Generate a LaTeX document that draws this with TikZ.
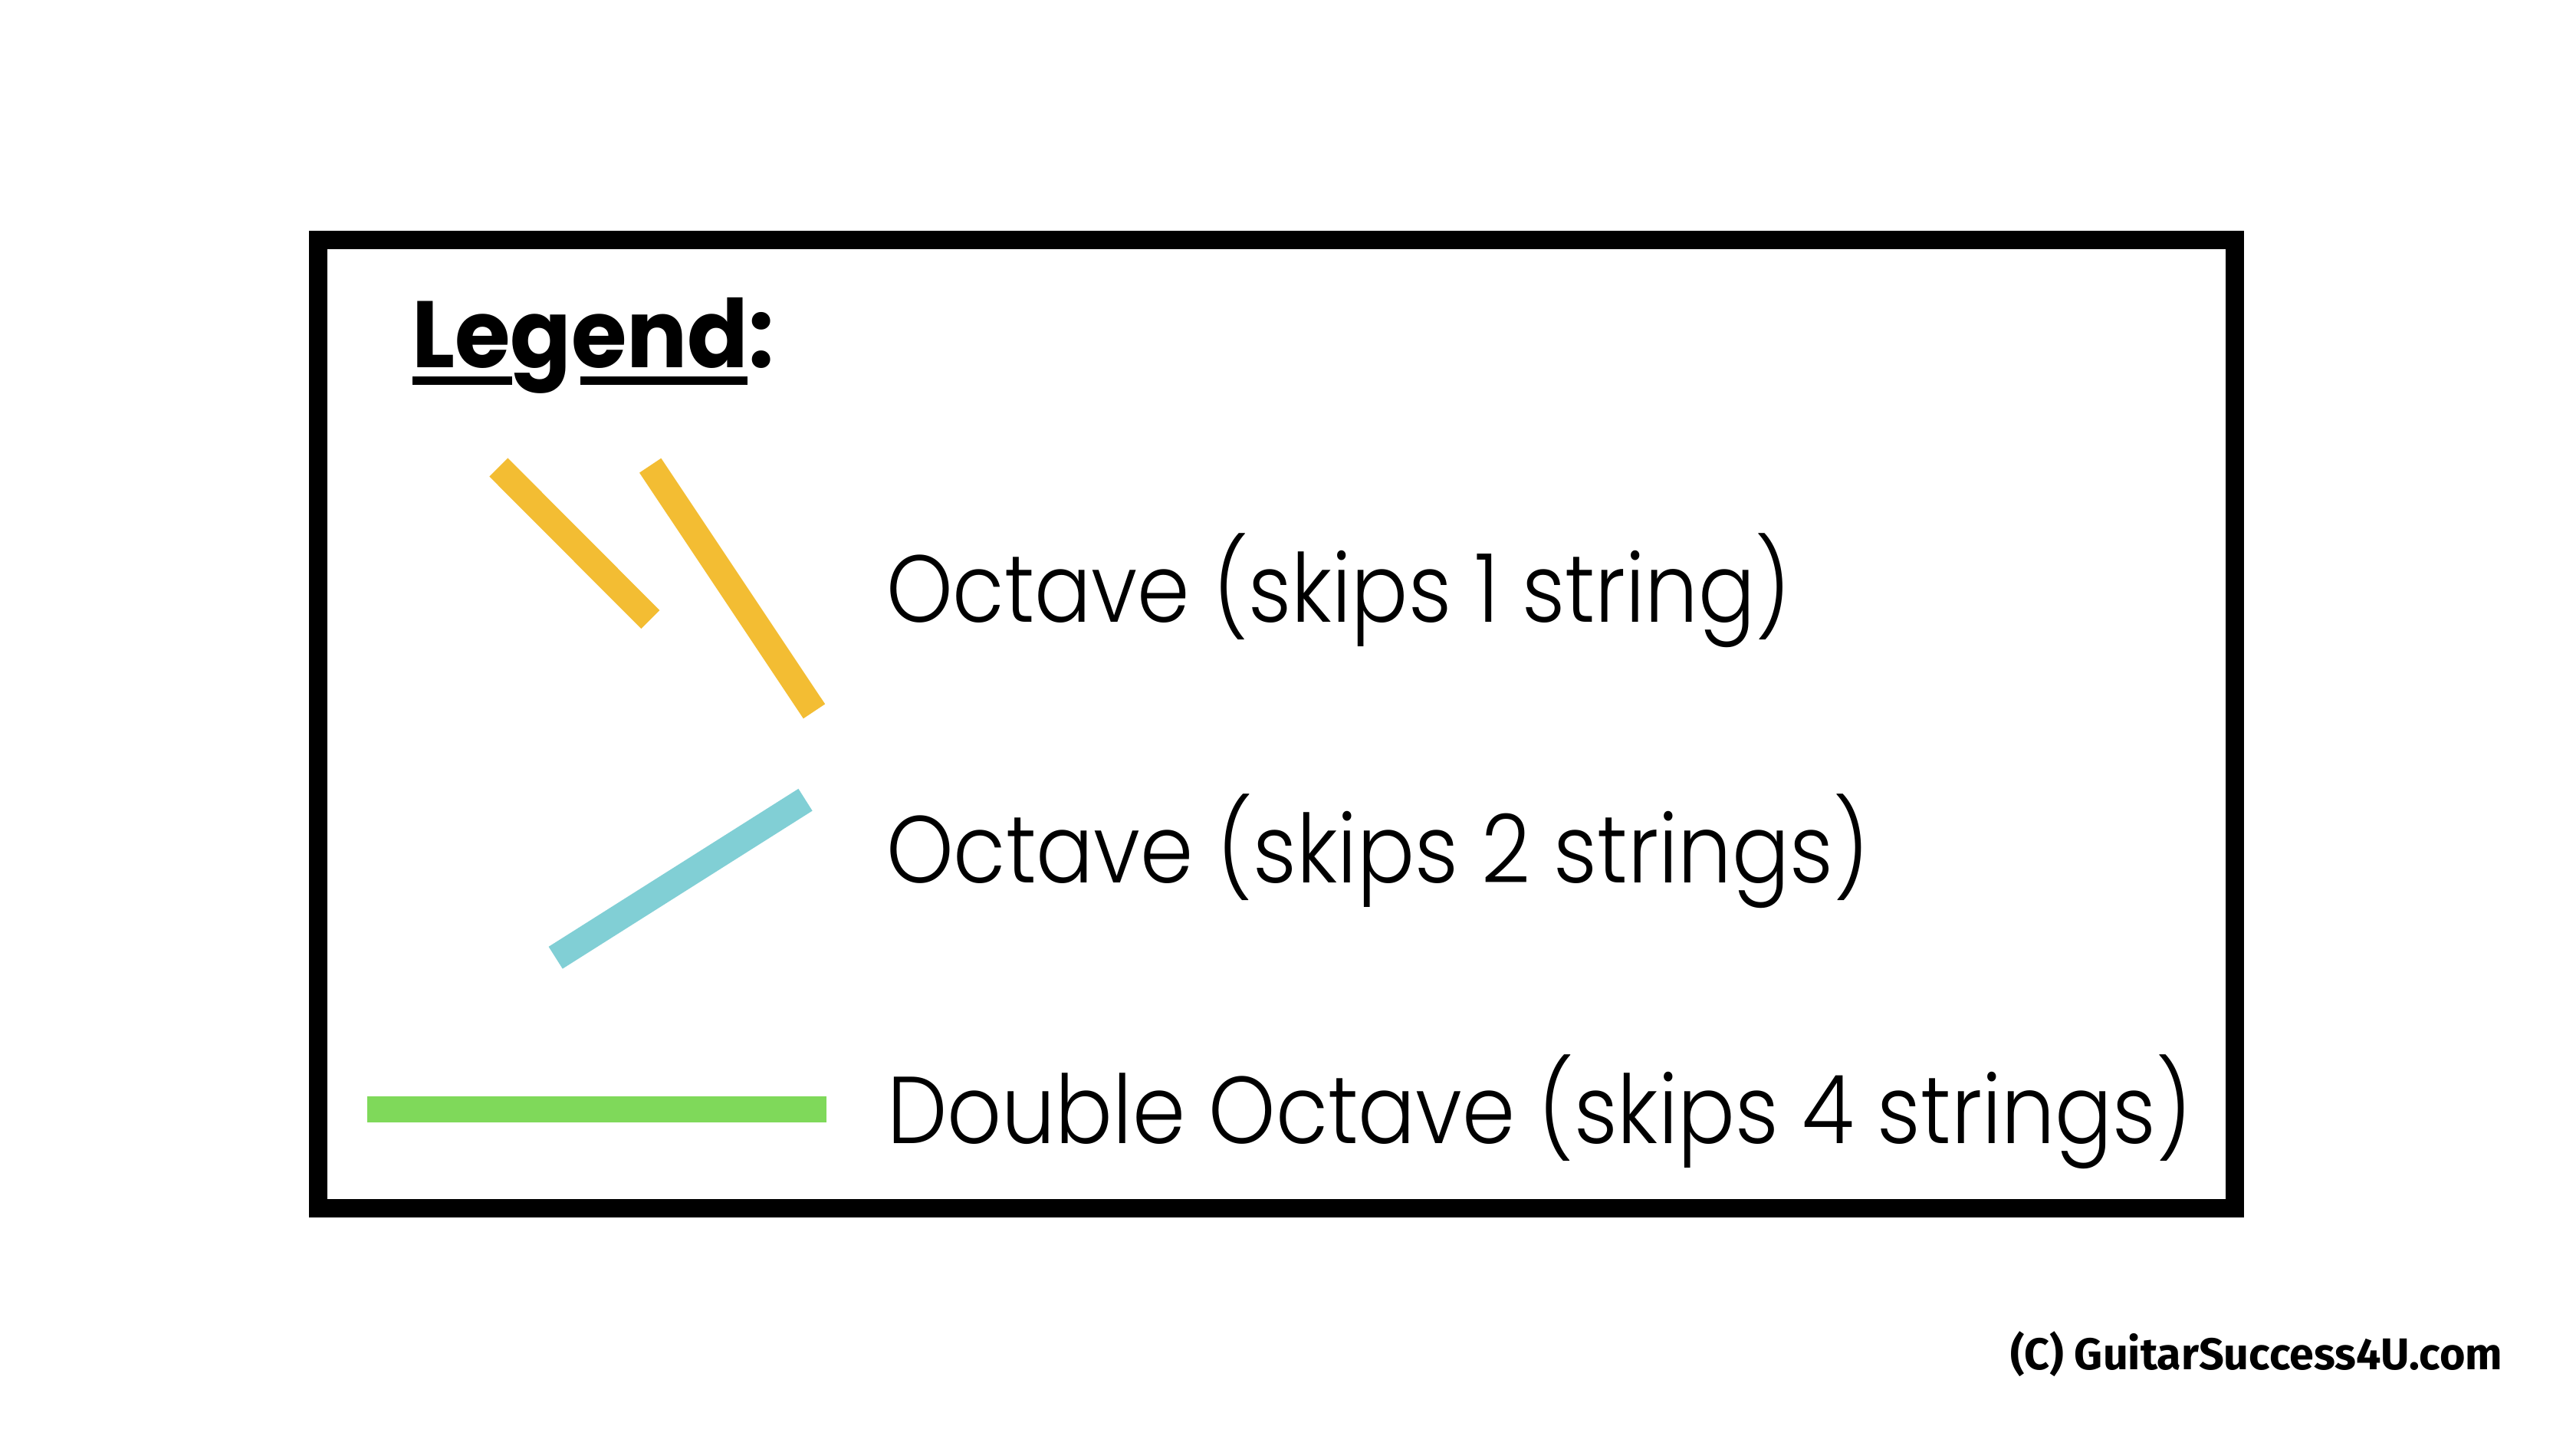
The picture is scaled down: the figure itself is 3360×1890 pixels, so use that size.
\documentclass[tikz,border=0pt]{standalone}
\usepackage{fontspec}
\usepackage{graphicx}
\newfontfamily\popp{Poppins}
\newfontfamily\lightfont{Poppins}[UprightFont=* Light]
\newfontfamily\fira{Fira Sans}
\definecolor{yellowc}{HTML}{F3BD33}
\definecolor{tealc}{HTML}{81CFD5}
\definecolor{greenc}{HTML}{7FD95A}
\begin{document}
\begin{tikzpicture}[x=0.25pt,y=-0.25pt,
  txt/.style={anchor=base west, inner sep=0pt, outer sep=0pt},
  bar/.style={line width=8.5pt, line cap=butt},
  octf/.style={font=\lightfont\fontsize{31pt}{36pt}\selectfont}]
\useasboundingbox (0,0) rectangle (3360,1890);
\fill[white] (0,0) rectangle (3360,1890);
% frame
\draw[line width=6pt] (415.3,313.5) rectangle (2914.5,1576);
% title
\node[txt] (legend) at (537,480) {\resizebox{118.25pt}{\height}{\popp\bfseries\fontsize{30.8pt}{36pt}\selectfont Legend:}};
\draw[line width=2.75pt] (538,496.6) -- (668,496.6) (757,496.6) -- (975,496.6);
% legend samples
\coordinate (y1a) at (650.3,609.5);
\coordinate (y1b) at (848.3,808);
\coordinate (y2a) at (848.2,607.2);
\coordinate (y2b) at (1062,927.8);
\coordinate (ta) at (724.7,1249.2);
\coordinate (tb) at (1050.5,1043.2);
\coordinate (ga) at (479,1447);
\coordinate (gb) at (1078,1447);
\draw[bar, yellowc] (y1a) -- (y1b);
\draw[bar, yellowc] (y2a) -- (y2b);
\draw[bar, tealc] (ta) -- (tb);
\draw[bar, greenc] (ga) -- (gb);
% texts
\node[txt, octf] (t1) at (1156,812) {\resizebox{295pt}{\height}{Octave (skips 1 string)}};
\node[txt, octf] (t2) at (1156,1152) {\resizebox{320.5pt}{\height}{Octave (skips 2 strings)}};
\node[txt, octf] (t3) at (1157,1492) {\resizebox{425.5pt}{\height}{Double Octave (skips 4 strings)}};
\node[txt] (copy) at (2622,1786) {\resizebox{160.5pt}{\height}{\fira\bfseries\fontsize{14.5pt}{17pt}\selectfont (C) GuitarSuccess4U.com}};
\end{tikzpicture}
\end{document}
